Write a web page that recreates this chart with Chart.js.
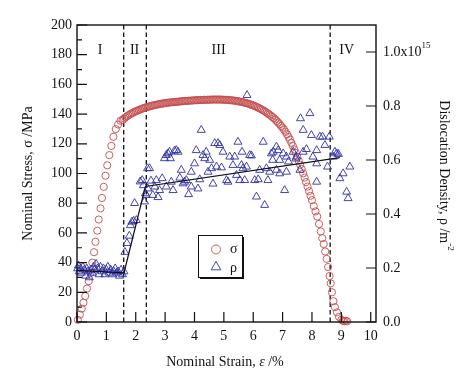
<!DOCTYPE html>
<html><head><meta charset="utf-8">
<script src="https://cdn.jsdelivr.net/npm/chart.js@4/dist/chart.umd.min.js"></script>
<style>html,body{margin:0;padding:0;background:#fff;}#wrap{width:474px;height:379px;}</style>
</head><body><div id="wrap"><canvas id="c" width="474" height="379"></canvas></div>
<script>
// ---- data (nominal strain in %, stress in MPa, dislocation density in 1e15 m^-2) ----
const stressStrain = [
0.03,0.1,0.16,0.22,0.28,0.34,0.4,0.46,0.52,0.58,0.63,0.69,0.74,0.8,0.85,0.91,0.97,1.03,1.1,1.17,1.24,1.32,1.4,1.48,
1.55,1.6,1.65,1.7,1.75,1.8,1.85,1.9,1.95,2.0,
2.05,2.1,2.15,2.2,2.25,2.3,2.35,2.4,2.45,2.5,
2.55,2.6,2.65,2.7,2.75,2.8,2.85,2.9,2.95,3.0,
3.05,3.1,3.15,3.2,3.25,3.3,3.35,3.4,3.45,3.5,
3.55,3.6,3.65,3.7,3.75,3.8,3.85,3.9,3.95,4.0,
4.05,4.1,4.15,4.2,4.25,4.3,4.35,4.4,4.45,4.5,
4.55,4.6,4.65,4.7,4.75,4.8,4.85,4.9,4.95,5.0,
5.05,5.1,5.15,5.2,5.25,5.3,5.35,5.4,5.45,5.5,
5.55,5.6,5.65,5.7,5.75,5.8,5.85,5.9,5.95,6.0,
6.05,6.1,6.15,6.2,6.25,6.3,6.35,6.4,6.45,6.5,
6.55,6.6,6.65,6.7,6.75,6.8,6.85,6.9,6.95,7.0,
7.05,7.1,7.15,7.2,7.25,7.3,7.35,7.4,7.45,7.5,
7.55,7.6,7.65,7.7,7.75,7.8,7.85,7.9,7.95,8.0,
8.06,8.12,8.18,8.24,8.3,8.35,8.4,8.45,8.5,8.55,8.6,8.64,8.68,8.73,8.78,8.85,8.92,9.0,9.05,9.1,9.15,9.2];
const stressValues = [
1.5,5,9,13,17.5,22.5,27.5,33,40,47,54,61.5,69,76.5,83.5,91,98.5,105.5,112.4,118.6,124.7,129.9,133,135.5,
136.0,137.0,137.8,138.5,139.2,139.8,140.4,140.9,141.4,141.9,
142.3,142.7,143.1,143.5,143.9,144.2,144.5,144.8,145.1,145.4,
145.6,145.9,146.1,146.3,146.5,146.7,146.9,147.1,147.2,147.4,
147.5,147.7,147.8,147.9,148.0,148.1,148.2,148.3,148.4,148.5,
148.6,148.7,148.8,148.9,148.9,149.0,149.1,149.1,149.2,149.3,
149.3,149.4,149.4,149.5,149.5,149.6,149.6,149.6,149.7,149.7,
149.7,149.8,149.8,149.8,149.8,149.8,149.8,149.8,149.7,149.7,
149.6,149.6,149.5,149.4,149.3,149.2,149.1,148.9,148.8,148.6,
148.4,148.2,148.0,147.7,147.5,147.2,146.9,146.5,146.2,145.8,
145.4,145.0,144.5,144.0,143.5,143.0,142.4,141.8,141.1,140.4,
139.7,138.9,138.1,137.2,136.3,135.3,134.3,133.2,132.0,130.8,
129.4,128.0,126.4,124.7,122.8,120.7,118.5,116.2,113.8,111.2,
108.6,105.8,103.0,100.1,97.2,94.2,91.2,88.1,85.0,82.0,
78.0,74.5,71.0,66.0,61.0,56.5,52.5,47.5,42.5,37.0,31.0,26.0,20.0,14.0,10.0,6.5,3.5,1.5,0.8,0.5,0.8,0.5];

const rhoStrain = [
0.02,0.05,0.08,0.12,0.15,0.20,0.25,0.30,0.33,0.38,0.42,0.47,0.52,0.56,0.60,0.65,0.70,0.75,0.80,0.85,0.90,0.95,1.00,1.05,1.10,1.15,1.20,1.25,1.30,1.35,1.40,1.45,1.50,1.55,1.60,
1.63,1.70,1.78,1.82,1.87,1.93,1.96,2.02,2.15,2.22,2.26,2.30,2.33,2.36,2.40,
2.41,2.47,2.52,2.58,2.65,2.70,2.76,2.81,2.90,2.98,3.04,3.04,3.10,3.15,3.18,3.21,3.27,3.32,3.38,3.44,
3.50,3.55,3.61,3.66,3.72,3.80,3.89,3.89,4.00,4.06,4.12,4.18,4.23,4.29,4.35,4.40,4.46,4.52,4.58,4.63,
4.69,4.75,4.80,4.86,4.92,4.97,5.09,5.14,5.20,5.31,5.37,5.43,5.48,5.54,5.60,5.62,5.65,5.71,5.77,5.79,
5.88,5.94,6.05,6.11,6.17,6.22,6.34,6.39,6.45,6.50,6.56,6.62,6.66,6.68,6.79,6.79,6.85,6.90,6.90,7.02,
7.07,7.13,7.13,7.20,7.36,7.45,7.47,7.59,7.61,7.70,7.70,7.81,7.93,7.98,8.03,8.16,8.16,8.16,8.27,8.36,
8.44,8.53,8.59,8.72,8.78,8.84,8.90,8.95,9.06,9.18,9.23,9.29];
const rhoValues = [
0.198,0.209,0.187,0.198,0.182,0.204,0.193,0.171,0.198,0.187,0.165,0.193,0.182,0.204,0.193,0.215,0.198,0.176,0.204,0.187,0.198,0.176,0.193,0.204,0.182,0.193,0.176,0.187,0.198,0.182,0.187,0.171,0.193,0.176,0.187,
0.259,0.292,0.319,0.358,0.371,0.374,0.440,0.377,0.520,0.525,0.506,0.446,0.476,0.470,0.569,
0.494,0.569,0.523,0.470,0.501,0.525,0.462,0.488,0.532,0.606,0.618,0.501,0.624,0.630,0.606,0.519,0.488,0.634,0.636,0.630,
0.534,0.563,0.513,0.519,0.525,0.473,0.556,0.501,0.587,0.636,0.494,0.528,0.711,0.618,0.606,0.630,0.556,0.600,0.569,0.512,
0.662,0.575,0.662,0.655,0.572,0.630,0.525,0.519,0.612,0.581,0.612,0.544,0.667,0.525,0.581,0.630,0.569,0.525,0.575,0.840,
0.618,0.616,0.525,0.464,0.528,0.563,0.667,0.433,0.569,0.525,0.556,0.624,0.600,0.630,0.649,0.563,0.636,0.550,0.600,0.624,
0.488,0.612,0.556,0.594,0.630,0.605,0.612,0.563,0.754,0.711,0.630,0.640,0.773,0.692,0.612,0.587,0.636,0.519,0.686,0.686,
0.655,0.575,0.686,0.612,0.630,0.624,0.622,0.532,0.550,0.482,0.458,0.575];

const fitStrain = [0, 1.6, 2.33, 8.95];
const fitRho = [0.191, 0.182, 0.502, 0.609];

const boundaryStrain = [1.59, 2.36, 8.62];
const regionNames = ['I', 'II', 'III', 'IV'];

const strainTickLabels = ['0','1','2','3','4','5','6','7','8','9','10'];
const stressTickLabels = ['0','20','40','60','80','100','120','140','160','180','200'];
const rhoTickLabels = ['0.0','0.2','0.4','0.6','0.8','1.0x10'];

// ---- styling / layout constants ----
const SERIF = "'Liberation Serif','Times New Roman',serif";
const INK = '#111';
const RED = 'rgb(196,78,78)';
const BLUE = 'rgb(48,48,165)';
const regionLabelAt = [0.79, 1.96, 4.82, 9.18];
const regionLabelStress = 182.7;

const datasets = [
  { label:'fit', data: fitStrain.map((v,i)=>({x:v,y:fitRho[i]})), yAxisID:'y2', showLine:true,
    borderColor:INK, borderWidth:1.3, pointRadius:0, fill:false },
  { label:'ρ', data: rhoStrain.map((v,i)=>({x:v,y:rhoValues[i]})), yAxisID:'y2', showLine:false,
    pointStyle:'triangle', pointRadius:4.6, borderColor:BLUE, backgroundColor:'rgba(0,0,0,0)', pointBorderWidth:0.9, clip:false },
  { label:'σ', data: stressStrain.map((v,i)=>({x:v,y:stressValues[i]})), yAxisID:'y', showLine:false,
    pointStyle:'circle', pointRadius:3.6, borderColor:RED, backgroundColor:'rgba(0,0,0,0)', pointBorderWidth:0.9, clip:false },
];
boundaryStrain.forEach(b => datasets.push({
  label:'boundary', data:[{x:b,y:0},{x:b,y:200}], yAxisID:'y', showLine:true,
  borderColor:INK, borderWidth:1.3, borderDash:[4.5,3], pointRadius:0, fill:false }));

function drawSup(ctx, parts, cx, cy, rot) {
  // parts: [{t, font, dy}]
  ctx.save();
  ctx.translate(cx, cy); ctx.rotate(rot);
  let w = 0;
  parts.forEach(p => { ctx.font = p.font; p.w = ctx.measureText(p.t).width; w += p.w; });
  let x = -w/2;
  ctx.textAlign = 'left'; ctx.textBaseline = 'middle';
  parts.forEach(p => { ctx.font = p.font; ctx.fillText(p.t, x, p.dy || 0); x += p.w; });
  ctx.restore();
}

const decor = {
  id:'decor',
  afterDatasetsDraw(chart) {
    const {ctx, chartArea:a, scales:{x, y, y2}} = chart;
    ctx.save();
    ctx.strokeStyle = INK; ctx.fillStyle = INK;
    // frame
    ctx.lineWidth = 1.4;
    ctx.strokeRect(a.left, a.top, a.right - a.left, a.bottom - a.top);
    // inward ticks
    ctx.lineWidth = 1.2;
    ctx.beginPath();
    x.ticks.forEach(t => { const px = x.getPixelForValue(t.value); ctx.moveTo(px, a.bottom); ctx.lineTo(px, a.bottom - 10); });
    y.ticks.forEach(t => { const py = y.getPixelForValue(t.value); const len = (Math.round(t.value) % 20 === 0) ? 10 : 5;
      ctx.moveTo(a.left, py); ctx.lineTo(a.left + len, py); });
    y2.ticks.forEach(t => { const py = y2.getPixelForValue(t.value); ctx.moveTo(a.right, py); ctx.lineTo(a.right - 10, py); });
    ctx.stroke();
    // superscript on the right axis top label
    const py1 = y2.getPixelForValue(1.0);
    ctx.font = '14px ' + SERIF;
    const wBase = ctx.measureText(rhoTickLabels[5]).width;
    ctx.font = '9px ' + SERIF; ctx.textAlign = 'left'; ctx.textBaseline = 'middle';
    ctx.fillText('15', a.right + 7 + wBase, py1 - 6);
    // region labels
    ctx.font = '14px ' + SERIF; ctx.textAlign = 'center'; ctx.textBaseline = 'middle';
    regionNames.forEach((n, i) => ctx.fillText(n, x.getPixelForValue(regionLabelAt[i]), y.getPixelForValue(regionLabelStress)));
    // axis titles
    drawSup(ctx, [{t:'Nominal Stress, σ /MPa', font:'14px ' + SERIF}], 28, (a.top + a.bottom)/2, -Math.PI/2);
    drawSup(ctx, [{t:'Dislocation Density, ρ /m', font:'14px ' + SERIF}, {t:'-2', font:'9px ' + SERIF, dy:-6}],
      444, (a.top + a.bottom)/2 + 2, Math.PI/2);
    drawSup(ctx, [{t:'Nominal Strain, ', font:'14px ' + SERIF}, {t:'ε', font:'italic 14px ' + SERIF}, {t:' /%', font:'14px ' + SERIF}],
      225, 362, 0);
    // legend
    const L = 198, T = 235, W = 44, H = 42;
    ctx.fillStyle = INK; ctx.fillRect(L + 2, T + 2, W, H);
    ctx.fillStyle = '#fff'; ctx.fillRect(L, T, W, H);
    ctx.lineWidth = 1; ctx.strokeStyle = INK; ctx.strokeRect(L + 0.5, T + 0.5, W, H);
    ctx.lineWidth = 0.9;
    ctx.strokeStyle = RED; ctx.beginPath(); ctx.arc(216, 249.5, 4.5, 0, Math.PI*2); ctx.stroke();
    ctx.strokeStyle = BLUE; ctx.beginPath();
    const r = 5.6, cx = 216, cy = 267;
    for (let k = 0; k < 3; k++) { const ang = k * 2*Math.PI/3; const px = cx + Math.sin(ang)*r, pyy = cy - Math.cos(ang)*r;
      if (k === 0) ctx.moveTo(px, pyy); else ctx.lineTo(px, pyy); }
    ctx.closePath(); ctx.stroke();
    ctx.fillStyle = INK; ctx.font = '14px ' + SERIF; ctx.textAlign = 'left'; ctx.textBaseline = 'middle';
    ctx.fillText('σ', 230, 249); ctx.fillText('ρ', 230, 268);
    ctx.restore();
  }
};

new Chart(document.getElementById('c'), {
  type:'scatter',
  data:{ datasets },
  options:{
    responsive:false, animation:false, devicePixelRatio:1, events:[],
    layout:{ padding:{ top:25, left:0, right:0, bottom:0 } },
    plugins:{ legend:{display:false}, tooltip:{enabled:false} },
    scales:{
      x:{ type:'linear', position:'bottom', min:0, max:10.18,
        grid:{display:false, drawTicks:false}, border:{display:false},
        ticks:{ stepSize:1, includeBounds:false, autoSkip:false, maxRotation:0, padding:6, color:INK,
          font:{family:SERIF, size:14}, callback:(v)=> strainTickLabels[Math.round(v)] ?? '' },
        afterFit:(s)=>{ s.height = 57; } },
      y:{ type:'linear', position:'left', min:0, max:200,
        grid:{display:false, drawTicks:false}, border:{display:false},
        ticks:{ stepSize:10, autoSkip:false, padding:5, color:INK, font:{family:SERIF, size:14},
          callback:(v)=> (Math.round(v) % 20 === 0) ? stressTickLabels[Math.round(v)/20] : '' },
        afterFit:(s)=>{ s.width = 77; } },
      y2:{ type:'linear', position:'right', min:0, max:1.1,
        grid:{display:false, drawTicks:false}, border:{display:false},
        ticks:{ stepSize:0.2, includeBounds:false, autoSkip:false, padding:7, color:INK, font:{family:SERIF, size:14},
          callback:(v)=> rhoTickLabels[Math.round(v/0.2)] ?? '' },
        afterFit:(s)=>{ s.width = 98; } }
    }
  },
  plugins:[decor]
});
</script>
</body></html>
